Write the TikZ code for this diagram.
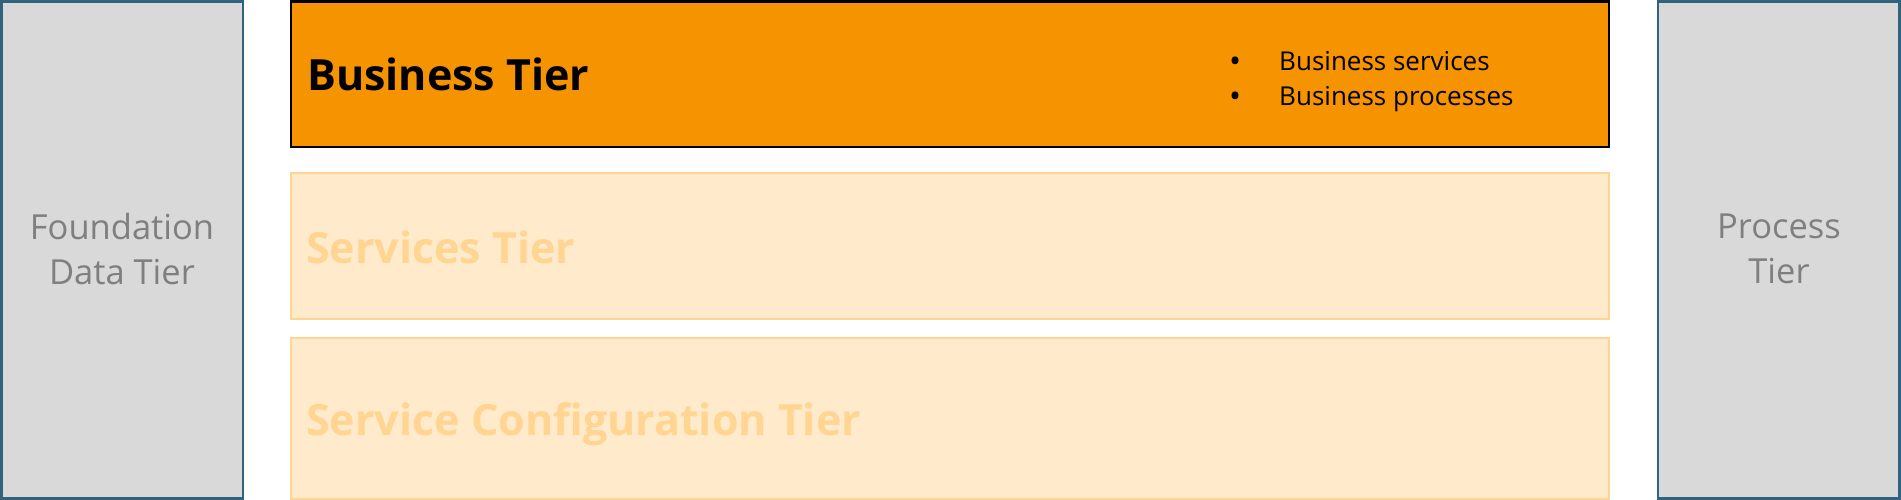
\documentclass[tikz,border=0pt]{standalone}
\usepackage{fontspec}
\setmainfont{Open Sans}
\usepackage{tikz}

\definecolor{sidefill}{HTML}{D9D9D9}
\definecolor{sideline}{HTML}{31637F}
\definecolor{sidetext}{HTML}{7F7F7F}
\definecolor{busfill}{HTML}{F59300}
\definecolor{palefill}{HTML}{FFEACB}
\definecolor{paleline}{HTML}{FFD591}

\tikzset{
	sidetier/.style={fill=sidefill, draw=sideline, line width=2.5pt},
	paletier/.style={fill=palefill, draw=paleline, line width=2pt},
	sidelabel/.style={text=sidetext, align=center, font=\fontsize{34.5}{45}\selectfont},
	tierlabel/.style={anchor=base west, inner sep=0pt, font=\bfseries\fontsize{43}{50}\selectfont},
	bulletlabel/.style={anchor=base west, inner sep=0pt, font=\fontsize{26}{30}\selectfont}
}

\begin{document}
\begin{tikzpicture}[x=1pt,y=-1pt]
	\useasboundingbox (0,0) rectangle (1901,500);
		% side tiers
		\draw[sidetier] (1.5,1.5) rectangle (243,498.5);
		\draw[sidetier] (1658,1.5) rectangle (1899.5,498.5);
		\node[sidelabel] (foundation) at (122,249) {Foundation\\Data Tier};
		\node[sidelabel] (process) at (1779,249) {Process\\Tier};
		% middle tiers
		\draw[fill=busfill, draw=black, line width=2.5pt] (291,1.5) rectangle (1609,147);
		\draw[paletier] (291,173) rectangle (1609,319);
		\draw[paletier] (291,338) rectangle (1609,498.5);
		\node[tierlabel] (business) at (307,91) {Business Tier};
		\node[tierlabel, text=paleline] (services) at (306,263) {Services Tier};
		\node[tierlabel, text=paleline] (config) at (306,435) {Service Configuration Tier};
		% business items
		\node[bulletlabel, font=\fontsize{32}{30}\selectfont] (dot1) at (1229,73) {\textbullet};
		\node[bulletlabel, font=\fontsize{32}{30}\selectfont] (dot2) at (1229,108) {\textbullet};
		\node[bulletlabel] (item1) at (1279,71) {Business services};
		\node[bulletlabel] (item2) at (1279,106) {Business processes};
	\end{tikzpicture}
\end{document}
